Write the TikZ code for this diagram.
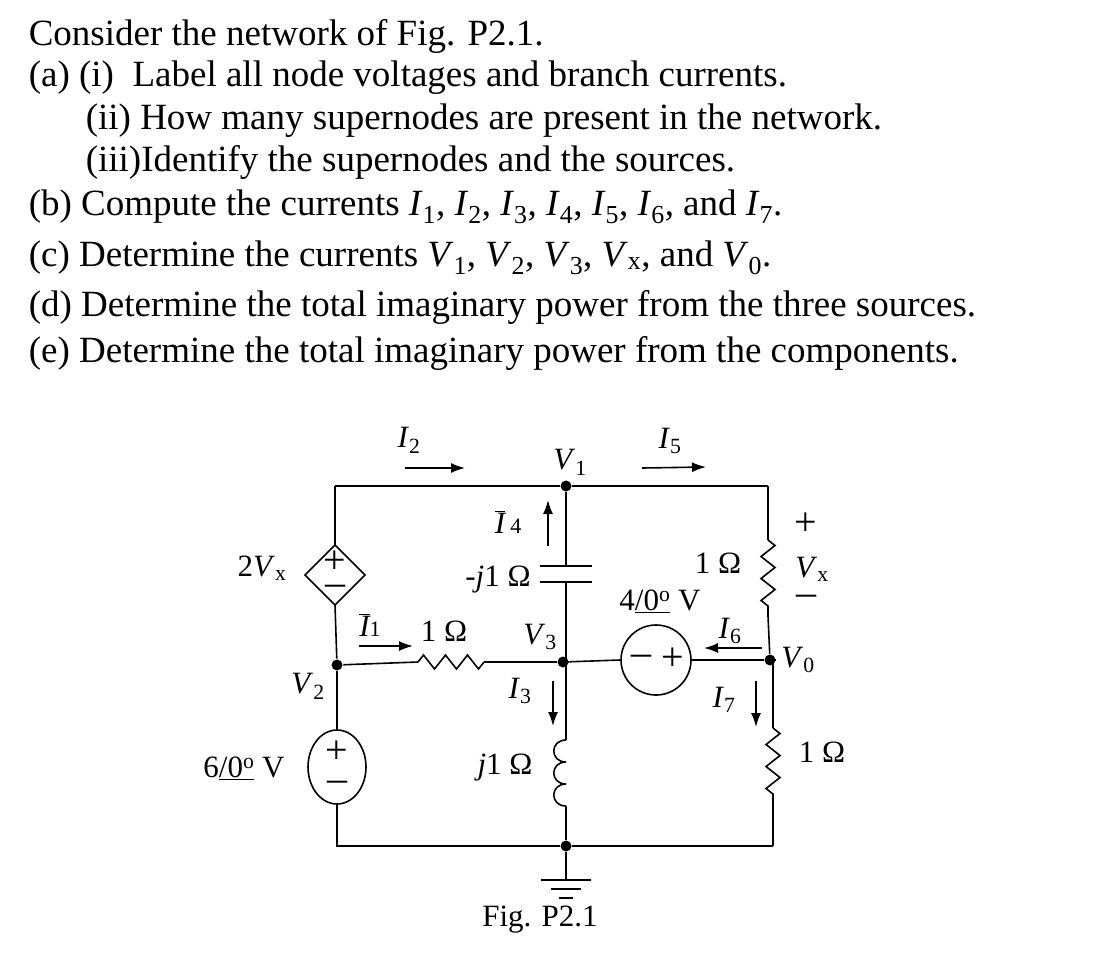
\documentclass[tikz,border=0pt]{standalone}
\usepackage{fontspec}
\setmainfont{Liberation Serif}
\usetikzlibrary{arrows.meta,decorations.pathmorphing,shapes.geometric}
\newcommand{\vv}[2]{\textit{#1}\textsubscript{#2}}
\newcommand{\ang}[1]{\underline{/#1\textsuperscript{o}}}
\newcommand{\bI}{\ensuremath{\overline{\textit{I}}}}
\begin{document}
\begin{tikzpicture}[x=1pt,y=-1pt,line width=1.6pt,
  hdr/.style={anchor=base west,font=\fontsize{37}{40}\selectfont,inner sep=0},
  lbl/.style={font=\fontsize{31}{34}\selectfont,inner sep=0},
  sgn/.style={font=\fontsize{40}{40}\selectfont,inner sep=0},
  dot/.style={circle,fill,inner sep=0,minimum size=11pt},
  res/.style={decorate,decoration={zigzag,amplitude=7pt,segment length=22pt}},
  cur/.style={-{Latex[length=14pt,width=10pt]},line width=1.6pt}]
\useasboundingbox (0,0) rectangle (1118,956);
% header
\node[hdr] (h1) at (28,45) {Consider the network of Fig. P2.1.};
\node[hdr] (h2) at (28,86) {(a) (i)\ \ Label all node voltages and branch currents.};
\node[hdr] (h3) at (85,129) {(ii) How many supernodes are present in the network.};
\node[hdr] (h4) at (85,171) {(iii)Identify the supernodes and the sources.};
\node[hdr] (h5) at (28,215) {(b) Compute the currents \vv{I}{1}, \vv{I}{2}, \vv{I}{3}, \vv{I}{4}, \vv{I}{5}, \vv{I}{6}, and \vv{I}{7}.};
\node[hdr] (h6) at (28,266) {(c) Determine the currents \vv{V}{1}, \vv{V}{2}, \vv{V}{3}, \vv{V}{x}, and \vv{V}{0}.};
\node[hdr] (h7) at (28,316) {(d) Determine the total imaginary power from the three sources.};
\node[hdr] (h8) at (28,362) {(e) Determine the total imaginary power from the components.};
% nodes
\coordinate (TL) at (335,486);
\node[dot] (V1) at (566,486) {};
\coordinate (TR) at (768,486);
\node[dot] (V2) at (337,665) {};
\node[dot] (V3) at (563,662) {};
\node[dot] (V0) at (770,660) {};
\coordinate (BL) at (337,846);
\node[dot] (G) at (566,846) {};
\coordinate (BR) at (773,846);
% dependent source
\draw (335,545) coordinate (dT) -- (365,575) -- (335,605) coordinate (dB) -- (305,575) -- cycle;
\node[sgn] (dp) at (335,562) {+};
\node[sgn] (dm) at (335,590) {--};
\draw (TL) -- (V1) -- (TR);
\draw (TL) -- (dT);
\draw (dB) -- (V2);
% 6V source
\node[draw,ellipse,minimum width=58pt,minimum height=74pt,inner sep=0] (S6) at (337,767) {};
\node[sgn] at (337,752) {+};
\node[sgn] at (337,786) {--};
\draw (V2) -- (S6.north);
\draw (S6.south) -- (BL) -- (G) -- (BR);
% 1 ohm horizontal
\coordinate (r1a) at (418,662);
\coordinate (r1b) at (484,662);
\draw (V2) -- (r1a);
\draw[res] (r1a) -- (r1b);
\draw (r1b) -- (V3);
% capacitor
\coordinate (c1) at (566,566);
\coordinate (c2) at (566,582);
\draw (V1) -- (c1);
\draw (540,566) -- (592,566);
\draw (540,582) -- (592,582);
\draw (c2) -- (566,662) -- (V3);
% inductor
\coordinate (l1) at (566,740);
\coordinate (l2) at (566,806);
\draw (V3) -- (566,662) -- (l1);
\draw (l1) to[out=180,in=180,looseness=1.9] (566,762) to[out=180,in=180,looseness=1.9] (566,784) to[out=180,in=180,looseness=1.9] (l2);
\draw (l2) -- (G);
\draw (G) -- (566,880);
\draw (541,880) -- (591,880);
\draw (551,889) -- (581,889);
\draw (559,898) -- (573,898);
% 4V source
\node[draw,circle,minimum size=70pt,inner sep=0] (S4) at (656,660) {};
\node[sgn] at (641,660) {--};
\node[sgn] at (673,659) {+};
\draw (V3) -- (S4.west);
\draw (S4.east) -- (V0);
% right resistors
\coordinate (r2a) at (768,540);
\coordinate (r2b) at (768,616);
\draw (TR) -- (r2a);
\draw[res] (r2a) -- (r2b);
\draw (r2b) -- (V0);
\coordinate (r3a) at (773,728);
\coordinate (r3b) at (773,804);
\draw (V0) -- (773,660) -- (r3a);
\draw[res] (r3a) -- (r3b);
\draw (r3b) -- (BR);
% current arrows
\draw[cur] (405,468) coordinate (a2s) -- (465,468);
\draw[cur] (642,468) -- (706,467);
\draw[cur] (548,546) -- (548,500);
\draw[cur] (359,646) -- (413,646);
\draw[cur] (762,648) -- (704,648);
\draw[cur] (553,681) -- (553,726);
\draw[cur] (756,681) -- (756,727);
% labels
\node[lbl] at (409,440) {\vv{I}{2}};
\node[lbl] at (570,462) {\vv{V}{1}};
\node[lbl] at (670,441) {\vv{I}{5}};
\node[lbl] at (508,522) {\bI\,{\fontsize{22}{24}\selectfont 4}};
\node[lbl] at (498,580) {-\textit{j}1 Ω};
\node[lbl] at (718,563) {1 Ω};
\node[sgn] at (806,524) {+};
\node[lbl] at (812,569) {\vv{V}{x}};
\node[sgn] at (806,600) {--};
\node[lbl] at (262,568) {2\vv{V}{x}};
\node[lbl] at (660,601) {4\ang{0} V};
\node[lbl] at (730,631) {\vv{I}{6}};
\node[lbl] at (370,625) {\bI{\fontsize{22}{24}\selectfont 1}};
\node[lbl] at (444,631) {1 Ω};
\node[lbl] at (540,637) {\vv{V}{3}};
\node[lbl] at (308,686) {\vv{V}{2}};
\node[lbl] at (520,691) {\vv{I}{3}};
\node[lbl] at (724,700) {\vv{I}{7}};
\node[lbl] at (798,660) {\vv{V}{0}};
\node[lbl] at (244,768) {6\ang{0} V};
\node[lbl] at (505,768) {\textit{j}1 Ω};
\node[lbl] at (822,752) {1 Ω};
\node[lbl] at (540,920) {Fig. P2.1};
\end{tikzpicture}
\end{document}
